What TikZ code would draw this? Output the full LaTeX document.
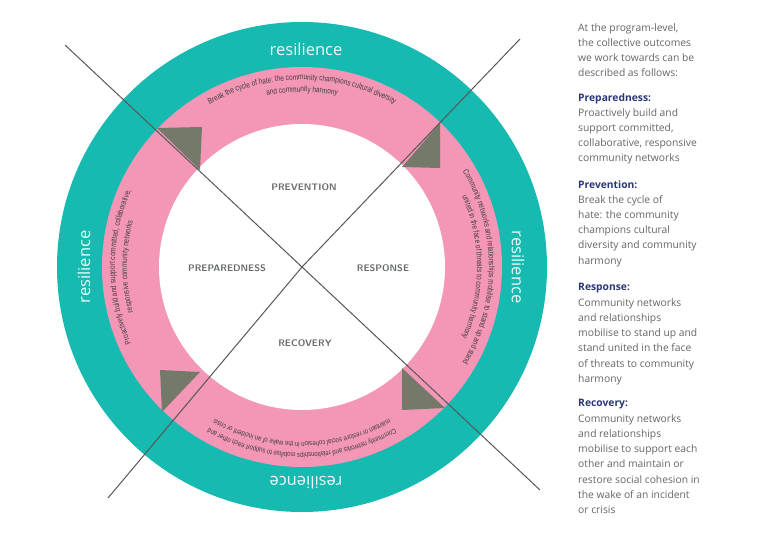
\documentclass[tikz,border=0pt]{standalone}
\usepackage{fontspec}
\setmainfont{Open Sans}
\newfontfamily\ringfont[FakeStretch=0.8]{Liberation Sans}
\newfontfamily\resfont{Open Sans}
\usetikzlibrary{decorations.text}
\definecolor{teal}{RGB}{22,186,176}
\definecolor{pinkr}{RGB}{244,150,182}
\definecolor{trigray}{RGB}{115,122,106}
\definecolor{linegray}{RGB}{85,88,85}
\definecolor{txtgray}{RGB}{100,100,100}
\definecolor{navy}{RGB}{40,55,120}
\definecolor{lblgray}{RGB}{105,110,105}
\begin{document}
\begin{tikzpicture}[x=1pt,y=1pt,
  tri/.style={fill=trigray},
  xline/.style={draw=linegray,line width=1pt},
  quad/.style={font=\fontsize{9.5}{10}\selectfont\bfseries\sffamily,text=lblgray},
  res/.style={font=\resfont\fontsize{16.5}{17}\selectfont,text=white!92!teal},
  ring/.style={decorate,decoration={text along path,text align=center,
     text={|\ringfont\fontsize{8.1}{8.5}\selectfont\color{black!75}|#1}}},
  ringb/.style={decorate,decoration={text along path,text align=center,
     text={|\ringfont\fontsize{7.4}{8}\selectfont\color{black!75}|#1}}},
  leg/.style={anchor=north west,inner sep=0pt,align=left,text=txtgray,
     font=\fontsize{10.3}{15.3}\selectfont},
  head/.style={anchor=north west,inner sep=0pt,text=navy,
     font=\fontsize{10.3}{15.3}\selectfont\bfseries}]
\useasboundingbox (0,0) rectangle (768,539);
\coordinate (C) at (302,272);
\fill[teal] (C) circle (245);
\fill[pinkr] (C) circle (200);
\fill[white] (C) circle (143);
% arrow triangles
\fill[tri] (157,411) -- (202,412) -- (200,369) -- cycle;
\fill[tri] (440,416) -- (440,371) -- (402,372) -- cycle;
\fill[tri] (402,171) -- (402,129) -- (445,131) -- cycle;
\fill[tri] (160,169) -- (200,167) -- (162,127) -- cycle;
% crossing lines
\coordinate (L1a) at (65,494);
\coordinate (L1b) at (540,49);
\coordinate (L2a) at (520,500);
\coordinate (L2b) at (108,41);
\draw[xline] (L1a) -- (C) -- (L1b);
\draw[xline] (L2a) -- (C) -- (L2b);
% quadrant labels
\node[quad] (prev) at (304,352) {PREVENTION};
\node[quad] (prep) at (227,271) {PREPAREDNESS};
\node[quad] (resp) at (383,271) {RESPONSE};
\node[quad] (reco) at (305,196) {RECOVERY};
% resilience
\node[res] (r1) at (306,490) {resilience};
\node[res,rotate=90] (r2) at (84,272) {resilience};
\node[res,rotate=-90] (r3) at (518,272) {resilience};
\node[res,rotate=180] (r4) at (306,56) {resilience};
% ring texts
\path[ring={Break the cycle of hate: the community champions cultural diversity}] ([shift={(C)}]150:187) arc[start angle=150,end angle=30,radius=187];
\path[ring={and community harmony}] ([shift={(C)}]150:175) arc[start angle=150,end angle=30,radius=175];
\path[ring={Community networks and relationships mobilise to stand up and stand}] ([shift={(C)}]60:187) arc[start angle=60,end angle=-60,radius=187];
\path[ring={united in the face of threats to community harmony}] ([shift={(C)}]60:175) arc[start angle=60,end angle=-60,radius=175];
\path[ringb={Community networks and relationships mobilise to support each other and}] ([shift={(C)}]-30:186) arc[start angle=-30,end angle=-150,radius=186];
\path[ringb={maintain or restore social cohesion in the wake of an incident or crisis}] ([shift={(C)}]-30:175) arc[start angle=-30,end angle=-150,radius=175];
\path[ring={Proactively build and support committed, collaborative,}] ([shift={(C)}]240:187) arc[start angle=240,end angle=120,radius=187];
\path[ring={responsive community networks}] ([shift={(C)}]240:175) arc[start angle=240,end angle=120,radius=175];
% legend
\node[leg] (t0) at (578,516) {At the program-level,\\the collective outcomes\\we work towards can be\\described as follows:};
\node[head] (h1) at (578,446) {Preparedness:};
\node[leg] (t1) at (578,431) {Proactively build and\\support committed,\\collaborative, responsive\\community networks};
\node[head] (h2) at (578,359) {Prevention:};
\node[leg] (t2) at (578,344) {Break the cycle of\\hate: the community\\champions cultural\\diversity and community\\harmony};
\node[head] (h3) at (578,256) {Response:};
\node[leg] (t3) at (578,241) {Community networks\\and relationships\\mobilise to stand up and\\stand united in the face\\of threats to community\\harmony};
\node[head] (h4) at (578,140) {Recovery:};
\node[leg] (t4) at (578,125) {Community networks\\and relationships\\mobilise to support each\\other and maintain or\\restore social cohesion in\\the wake of an incident\\or crisis};
\end{tikzpicture}
\end{document}
